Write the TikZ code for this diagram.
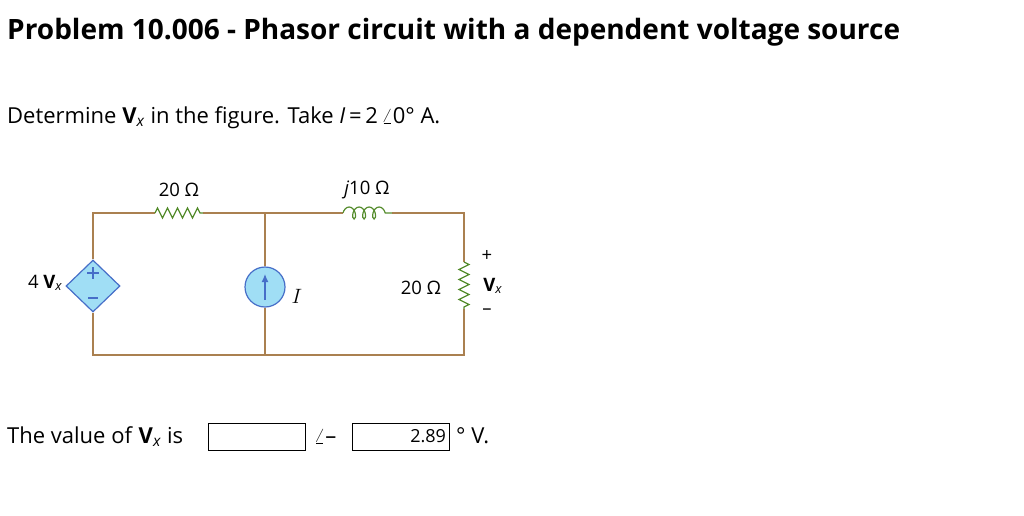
\documentclass[tikz,border=0pt]{standalone}
\usepackage{fontspec}
\setmainfont{Open Sans}
\usetikzlibrary{decorations.pathmorphing,arrows.meta,shapes.geometric}
\definecolor{wire}{RGB}{170,128,80}
\definecolor{comp}{RGB}{85,140,45}
\definecolor{srcfill}{RGB}{160,222,245}
\definecolor{srcline}{RGB}{70,110,200}
\newcommand{\Vx}{\textbf{V}\textsubscript{\textit{x}}}
\tikzset{
 w/.style={draw=wire,line width=1.3pt},
 res/.style={draw=comp,line width=1.2pt,decorate,decoration={zigzag,segment length=10pt,amplitude=5pt}},
 ind/.style={draw=comp,line width=1.2pt,decorate,decoration={coil,segment length=10pt,amplitude=6pt,aspect=0.6}},
 src/.style={fill=srcfill,draw=srcline,line width=1.2pt},
 lbl/.style={font=\fontsize{18.5}{20}\selectfont},
 txt/.style={font=\fontsize{22}{26}\selectfont,anchor=base west,inner sep=0},
 ans/.style={draw=black,line width=0.6pt,minimum width=97pt,minimum height=27pt,inner sep=0}
}
\begin{document}
\begin{tikzpicture}[x=1pt,y=-1pt]
\useasboundingbox (0,0) rectangle (1024,515);
\node[txt,font=\fontsize{28}{32}\selectfont\bfseries] (title) at (7,39) {Problem 10.006 - Phasor circuit with a dependent voltage source};
\node[txt] (det) at (7,123) {Determine \Vx\ in the figure. Take \textit{I}\,=\,2\,$\angle$0° A.};
% nodes
\coordinate (tl) at (93,213); \coordinate (tm) at (265,213); \coordinate (tr) at (464,213);
\coordinate (bl) at (93,355); \coordinate (bm) at (265,355); \coordinate (br) at (464,355);
\coordinate (r1a) at (155,213); \coordinate (r1b) at (203,213);
\coordinate (l1a) at (343,213); \coordinate (l1b) at (392,213);
\coordinate (r2a) at (464,262); \coordinate (r2b) at (464,309);
\node[src,diamond,minimum width=54pt,minimum height=52pt,inner sep=0] (vs) at (93,286) {};
\node[src,circle,minimum size=40pt,inner sep=0] (cs) at (265,287) {};
\draw[w] (vs.north) -- (tl) -- (r1a);
\draw[w] (r1b) -- (tm) -- (l1a);
\draw[w] (l1b) -- (tr) -- (r2a);
\draw[w] (r2b) -- (br) -- (bm) -- (bl) -- (vs.south);
\draw[w] (tm) -- (cs.north); \draw[w] (cs.south) -- (bm);
\draw[res] (r1a) -- (r1b);
\draw[ind] (l1a) -- (l1b);
\draw[res] (r2a) -- (r2b);
\draw[srcline,line width=1.2pt] (93,267)--(93,279) (87,273)--(99,273) (88,298)--(98,298);
\draw[srcline,line width=1.3pt,-{Latex[length=8pt,width=7pt]}] (265,300) -- (265,274);
\node[lbl] (l20a) at (179,190) {20 Ω};
\node[lbl] (lj) at (367,190) {\textit{j}10 Ω};
\node[lbl,anchor=east] (l4v) at (66,283) {4 \Vx};
\node[lbl,font=\fontsize{22}{22}\selectfont\itshape\rmfamily] (li) at (297,296) {$I$};
\node[lbl] (l20b) at (421,288) {20 Ω};
\node[lbl] (lp) at (487,256) {+};
\node[lbl] (lv) at (493,286) {\Vx};
\node[lbl] (lm) at (487,312) {–};
% answer line
\node[txt] (val) at (7,443) {The value of \Vx\ is};
\node[ans] (b1) at (256.5,436.5) {};
\node[txt] (ang) at (314,443) {$\angle$–};
\node[ans,text width=90pt,align=right,font=\fontsize{18}{20}\selectfont] (b2) at (401,436.5) {2.89};
\node[txt] (deg) at (456,443) {° V.};
\end{tikzpicture}
\end{document}
